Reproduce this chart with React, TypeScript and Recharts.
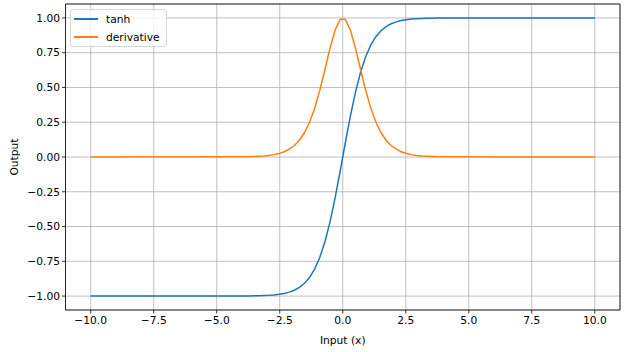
import React from 'react';
import { LineChart, Line, XAxis, YAxis, CartesianGrid, ReferenceArea, Label } from 'recharts';

const xs = [
  -10.0, -4.141, -3.939, -3.737, -3.535, -3.333, -3.131, -2.929, -2.727, -2.525, -2.323, -2.121,
  -1.919, -1.717, -1.515, -1.313, -1.111, -0.909, -0.707, -0.505, -0.303, -0.101,
  0.101, 0.303, 0.505, 0.707, 0.909, 1.111, 1.313, 1.515, 1.717, 1.919,
  2.121, 2.323, 2.525, 2.727, 2.929, 3.131, 3.333, 3.535, 3.737, 3.939, 4.141, 10.0,
];

const tanhValues = [
  -1.0, -0.9995, -0.9992, -0.9989, -0.9983, -0.9975, -0.9962, -0.9943, -0.9915, -0.9873, -0.981, -0.9716,
  -0.9578, -0.9375, -0.9078, -0.865, -0.8044, -0.7207, -0.6088, -0.466, -0.2941, -0.1007,
  0.1007, 0.2941, 0.466, 0.6088, 0.7207, 0.8044, 0.865, 0.9078, 0.9375, 0.9578,
  0.9716, 0.981, 0.9873, 0.9915, 0.9943, 0.9962, 0.9975, 0.9983, 0.9989, 0.9992, 0.9995, 1.0,
];

const derivativeValues = [
  0.0, 0.001, 0.0015, 0.0023, 0.0034, 0.0051, 0.0076, 0.0114, 0.017, 0.0253, 0.0376, 0.0559,
  0.0825, 0.121, 0.1759, 0.2518, 0.3529, 0.4806, 0.6294, 0.7829, 0.9135, 0.9899,
  0.9899, 0.9135, 0.7829, 0.6294, 0.4806, 0.3529, 0.2518, 0.1759, 0.121, 0.0825,
  0.0559, 0.0376, 0.0253, 0.017, 0.0114, 0.0076, 0.0051, 0.0034, 0.0023, 0.0015, 0.001, 0.0,
];

const xTicks = [-10, -7.5, -5, -2.5, 0, 2.5, 5, 7.5, 10];
const yTicks = [-1, -0.75, -0.5, -0.25, 0, 0.25, 0.5, 0.75, 1];

const seriesNames = ['tanh', 'derivative'];
const seriesColors = ['#1f77b4', '#ff7f0e'];

const data = xs.map((x, i) => ({ x, tanh: tanhValues[i], derivative: derivativeValues[i] }));

const fmt = (d: number) => (v: number) => v.toFixed(d).replace('-', '\u2212');

const FONT = 'DejaVu Sans, sans-serif';
const FS = 10.7;

const LegendBox = () => (
  <div
    style={{
      position: 'absolute',
      left: 70,
      top: 9,
      width: 97,
      height: 38,
      border: '1px solid #d6d6d6',
      borderRadius: 3,
      background: 'rgba(255,255,255,0.8)',
      padding: '0 0 0 3px',
      fontFamily: FONT,
      fontSize: FS,
      color: '#000',
      boxSizing: 'border-box',
    }}
  >
    {seriesNames.map((n, i) => (
      <div key={n} style={{ display: 'flex', alignItems: 'center', height: 18 }}>
        <div style={{ width: 24, height: 1.6, background: seriesColors[i], marginRight: 8 }} />
        <span>{n}</span>
      </div>
    ))}
  </div>
);

const YLabel = (props: any) => {
  const vb = props.viewBox || {};
  const cx = 14;
  const cy = vb.y + vb.height / 2;
  return (
    <text x={cx} y={cy} transform={`rotate(-90 ${cx} ${cy})`} textAnchor="middle" dominantBaseline="central"
      fontFamily={FONT} fontSize={FS} fill="#000">
      Output
    </text>
  );
};

export default function App() {
  return (
    <div style={{ position: 'absolute', left: 0, top: 0, width: 628, height: 352, background: '#fff' }}>
      <LineChart width={628} height={352} data={data} margin={{ top: 4, right: 8, bottom: 0, left: 0 }}>
        <CartesianGrid stroke="#b0b0b0" strokeWidth={0.8} />
        <XAxis
          dataKey="x"
          type="number"
          domain={[-11, 11]}
          ticks={xTicks}
          tickFormatter={fmt(1)}
          allowDataOverflow
          height={42}
          tickSize={3.5}
          tickMargin={3}
          axisLine={false}
          tickLine={{ stroke: '#000', strokeWidth: 0.8 }}
          tick={{ fill: '#000', fontSize: FS, fontFamily: FONT }}
        >
          <Label value="Input (x)" position="insideBottom" offset={8} fill="#000" fontSize={FS} fontFamily={FONT} />
        </XAxis>
        <YAxis
          type="number"
          domain={[-1.1, 1.1]}
          ticks={yTicks}
          tickFormatter={fmt(2)}
          allowDataOverflow
          width={65.5}
          tickSize={3.5}
          tickMargin={2}
          axisLine={false}
          tickLine={{ stroke: '#000', strokeWidth: 0.8 }}
          tick={{ fill: '#000', fontSize: FS, fontFamily: FONT }}
        >
          <Label content={<YLabel />} />
        </YAxis>
        <ReferenceArea x1={-11} x2={11} y1={-1.1} y2={1.1} fill="none" stroke="#000" strokeWidth={0.8} fillOpacity={0} ifOverflow="visible" />
        <Line dataKey="tanh" type="linear" stroke={seriesColors[0]} strokeWidth={1.5} dot={false} isAnimationActive={false} />
        <Line dataKey="derivative" type="linear" stroke={seriesColors[1]} strokeWidth={1.5} dot={false} isAnimationActive={false} />
      </LineChart>
      <LegendBox />
    </div>
  );
}
